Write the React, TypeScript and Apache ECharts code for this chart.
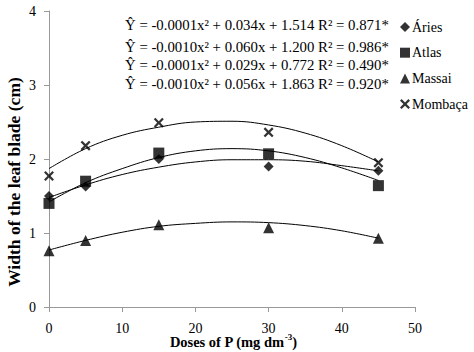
import React, { useEffect, useRef } from "react";
import * as echarts from "echarts";

const doses = [0, 5, 15, 30, 45];
const ariesPts = [1.5, 1.63, 2.0, 1.9, 1.84];
const atlasPts = [1.4, 1.7, 2.08, 2.07, 1.64];
const massaiPts = [0.76, 0.9, 1.11, 1.07, 0.93];
const mombacaPts = [1.77, 2.18, 2.49, 2.36, 1.95];

const curveX = [0, 5, 10, 15, 20, 25, 30, 35, 40, 45];
const ariesCurve = [1.48, 1.65, 1.79, 1.89, 1.96, 1.99, 1.99, 1.97, 1.91, 1.84];
const atlasCurve = [1.42, 1.68, 1.87, 2.02, 2.11, 2.14, 2.11, 2.02, 1.88, 1.71];
const massaiCurve = [0.77, 0.9, 1.01, 1.09, 1.13, 1.15, 1.14, 1.1, 1.03, 0.93];
const mombacaCurve = [1.87, 2.14, 2.32, 2.43, 2.5, 2.51, 2.46, 2.35, 2.18, 1.96];

const names = ["Áries", "Atlas", "Massai", "Mombaça"];
const equations = [
  "Ŷ = -0.0001x² + 0.034x + 1.514 R² = 0.871*",
  "Ŷ = -0.0010x² + 0.060x + 1.200 R² = 0.986*",
  "Ŷ = -0.0001x² + 0.029x + 0.772 R² = 0.490*",
  "Ŷ = -0.0010x² + 0.056x + 1.863 R² = 0.920*",
];
const yTitle = "Width of the leaf blade (cm)";
const xTitleMain = "Doses of P (mg dm";
const xTitleSup = "-3";
const xTitleEnd = ")";

const X_PATH =
  "path://M0,1.6L1.6,0L5,3.4L8.4,0L10,1.6L6.6,5L10,8.4L8.4,10L5,6.6L1.6,10L0,8.4L3.4,5Z";

const FAM = "Liberation Serif";

function measure(font: string, text: string): number {
  const ctx = document.createElement("canvas").getContext("2d");
  if (!ctx) return text.length * 7;
  ctx.font = font;
  return ctx.measureText(text).width;
}

export default function App() {
  const ref = useRef<HTMLDivElement>(null);
  useEffect(() => {
    if (!ref.current) return;
    document.body.style.margin = "0";
    document.body.style.overflow = "hidden";
    const chart = echarts.init(ref.current, null, { renderer: "svg" });

    const yw = measure(`bold 15px "${FAM}"`, yTitle);
    const ySize = Math.max(12, Math.min(18, (15 * 210) / (yw || 210)));
    const xw15 =
      measure(`bold 15px "${FAM}"`, xTitleMain + xTitleEnd) +
      measure(`bold 9px "${FAM}"`, xTitleSup);
    const xSize = Math.max(12, Math.min(16, (15 * 127) / (xw15 || 127)));
    const supSize = Math.round(xSize * 0.62);
    const w1 = measure(`bold ${xSize}px "${FAM}"`, xTitleMain);
    const w2 = measure(`bold ${supSize}px "${FAM}"`, xTitleSup);
    const w3 = measure(`bold ${xSize}px "${FAM}"`, xTitleEnd);
    const xStart = 233.5 - (w1 + w2 + w3) / 2;

    const pts = [ariesPts, atlasPts, massaiPts, mombacaPts];
    const curves = [ariesCurve, atlasCurve, massaiCurve, mombacaCurve];
    const symbols = ["diamond", "rect", "triangle", X_PATH];
    const sizes = [10, 11, 11, 10];
    const series: any[] = [];
    curves.forEach((c, i) => {
      series.push({
        name: names[i] + " curve",
        type: "line",
        data: curveX.map((x, j) => [x, c[j]]),
        smooth: 0.4,
        showSymbol: false,
        symbol: "none",
        lineStyle: { color: "#000", width: 1 },
        z: 2,
      });
    });
    pts.forEach((p, i) => {
      series.push({
        name: names[i],
        type: "scatter",
        data: doses.map((x, j) => [x, p[j]]),
        symbol: symbols[i],
        symbolSize: sizes[i],
        itemStyle: { color: "#000" },
        z: 3,
      });
    });
    chart.setOption({
      animation: false,
      backgroundColor: "#fff",
      grid: { left: 49, right: 59, top: 11, bottom: 45 },
      xAxis: {
        type: "value",
        min: 0,
        max: 50,
        interval: 10,
        splitLine: { show: false },
        axisLine: { lineStyle: { color: "#999" } },
        axisTick: { show: true, length: 5, lineStyle: { color: "#999" } },
        axisLabel: { color: "#000", fontFamily: FAM, fontSize: 14, margin: 14 },
      },
      yAxis: {
        type: "value",
        min: 0,
        max: 4,
        interval: 1,
        splitLine: { show: false },
        axisLine: { show: true, lineStyle: { color: "#999" } },
        axisTick: { show: true, length: 5, lineStyle: { color: "#999" } },
        axisLabel: { color: "#000", fontFamily: FAM, fontSize: 14, margin: 13 },
      },
      legend: {
        orient: "vertical",
        left: 400,
        top: 20,
        padding: 0,
        itemWidth: 10,
        itemHeight: 10,
        itemGap: 11.7,
        data: names,
        textStyle: { color: "#000", fontFamily: FAM, fontSize: 14, padding: [0, 0, 0, -3] },
      },
      graphic: [
        ...equations.map((t, i) => ({
          type: "text",
          x: 125,
          y: [25, 46.5, 65, 83.5][i],
          style: {
            text: t,
            fill: "#000",
            fontFamily: FAM,
            fontSize: 14.8,
            verticalAlign: "middle",
          },
        })),
        {
          type: "text",
          x: 14,
          y: 182,
          rotation: Math.PI / 2,
          style: {
            text: yTitle,
            fill: "#000",
            fontFamily: FAM,
            fontWeight: "bold",
            fontSize: ySize,
            align: "center",
            verticalAlign: "middle",
          },
        },
        {
          type: "text",
          x: xStart,
          y: 342,
          style: {
            text: xTitleMain,
            fill: "#000",
            fontFamily: FAM,
            fontWeight: "bold",
            fontSize: xSize,
            align: "left",
            verticalAlign: "middle",
          },
        },
        {
          type: "text",
          x: xStart + w1,
          y: 337,
          style: {
            text: xTitleSup,
            fill: "#000",
            fontFamily: FAM,
            fontWeight: "bold",
            fontSize: supSize,
            align: "left",
            verticalAlign: "middle",
          },
        },
        {
          type: "text",
          x: xStart + w1 + w2,
          y: 342,
          style: {
            text: xTitleEnd,
            fill: "#000",
            fontFamily: FAM,
            fontWeight: "bold",
            fontSize: xSize,
            align: "left",
            verticalAlign: "middle",
          },
        },
      ],
      series,
    });
    return () => chart.dispose();
  }, []);
  return (
    <div
      ref={ref}
      style={{ position: "fixed", left: 0, top: 0, width: 474, height: 352 }}
    />
  );
}
